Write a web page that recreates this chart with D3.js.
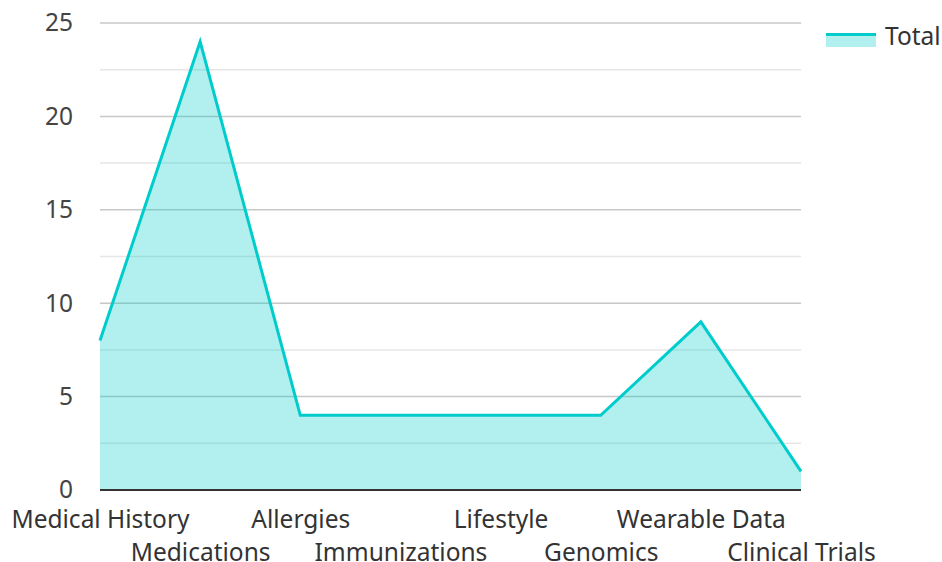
<!DOCTYPE html>
<html><head><meta charset="utf-8">
<script src="https://cdn.jsdelivr.net/npm/d3@7"></script>
<style>body{margin:0;background:#fff;}svg{display:block;font-family:"Noto Sans","Open Sans",sans-serif;}</style>
</head><body><svg id="c" width="942" height="562"></svg>
<script>
const categories = ["Medical History","Medications","Allergies","Immunizations","Lifestyle","Genomics","Wearable Data","Clinical Trials"];
const totalValues = [8,24,4,4,4,4,9,1];
const yTicks = [0,5,10,15,20,25];
const yMinorTicks = [2.5,7.5,12.5,17.5,22.5];
const seriesName = "Total";

const svg = d3.select("#c");
const L = 100, R = 801, T = 23, B = 490;
const FS = 24.5;
const x = d3.scalePoint().domain(categories).range([L, R]);
const y = d3.scaleLinear().domain([0,25]).range([B, T]);
const lineColor = "#00cccc", textColor = "#333";

svg.append("g").selectAll("line").data(yMinorTicks).join("line")
  .attr("x1", L).attr("x2", R).attr("y1", d=>y(d)).attr("y2", d=>y(d))
  .attr("stroke", "#e6e6e6").attr("stroke-width", 1.5);
svg.append("g").selectAll("line").data(yTicks.filter(d=>d>0)).join("line")
  .attr("x1", L).attr("x2", R).attr("y1", d=>y(d)).attr("y2", d=>y(d))
  .attr("stroke", "#c8c8c8").attr("stroke-width", 1.5);

const data = categories.map((c,i)=>({c, v: totalValues[i]}));
svg.append("path").datum(data)
  .attr("d", d3.area().x(d=>x(d.c)).y0(y(0)).y1(d=>y(d.v)))
  .attr("fill", lineColor).attr("fill-opacity", 0.3);
svg.append("path").datum(data)
  .attr("d", d3.line().x(d=>x(d.c)).y(d=>y(d.v)))
  .attr("fill", "none").attr("stroke", lineColor).attr("stroke-width", 3).attr("stroke-linejoin","miter");

svg.append("line").attr("x1", L).attr("x2", R).attr("y1", B).attr("y2", B)
  .attr("stroke", "#333").attr("stroke-width", 2);

const yAxis = d3.axisLeft(y).tickValues(yTicks).tickSize(0).tickPadding(27);
const ga = svg.append("g").attr("transform", `translate(${L},0)`).call(yAxis);
ga.select(".domain").remove();
ga.selectAll("text").attr("font-size", FS).attr("fill", "#444").attr("font-family", "\"Noto Sans\",sans-serif");

const xAxis = d3.axisBottom(x).tickSize(0);
const gx = svg.append("g").attr("transform", `translate(0,${B})`).call(xAxis);
gx.select(".domain").remove();
gx.selectAll("text").attr("font-size", FS).attr("fill", textColor).attr("font-family", "\"Noto Sans\",sans-serif")
  .attr("dy", 0).attr("y", (d,i)=> i%2===0 ? 37.5 : 70.5);

const lg = svg.append("g");
lg.append("rect").attr("x", 826).attr("y", 33).attr("width", 50).attr("height", 14).attr("fill", lineColor).attr("fill-opacity", 0.3);
lg.append("line").attr("x1", 826).attr("x2", 876).attr("y1", 34.5).attr("y2", 34.5).attr("stroke", lineColor).attr("stroke-width", 3);
lg.append("text").attr("x", 885).attr("y", 45).attr("font-size", FS).attr("fill", textColor).text(seriesName);
</script></body></html>
